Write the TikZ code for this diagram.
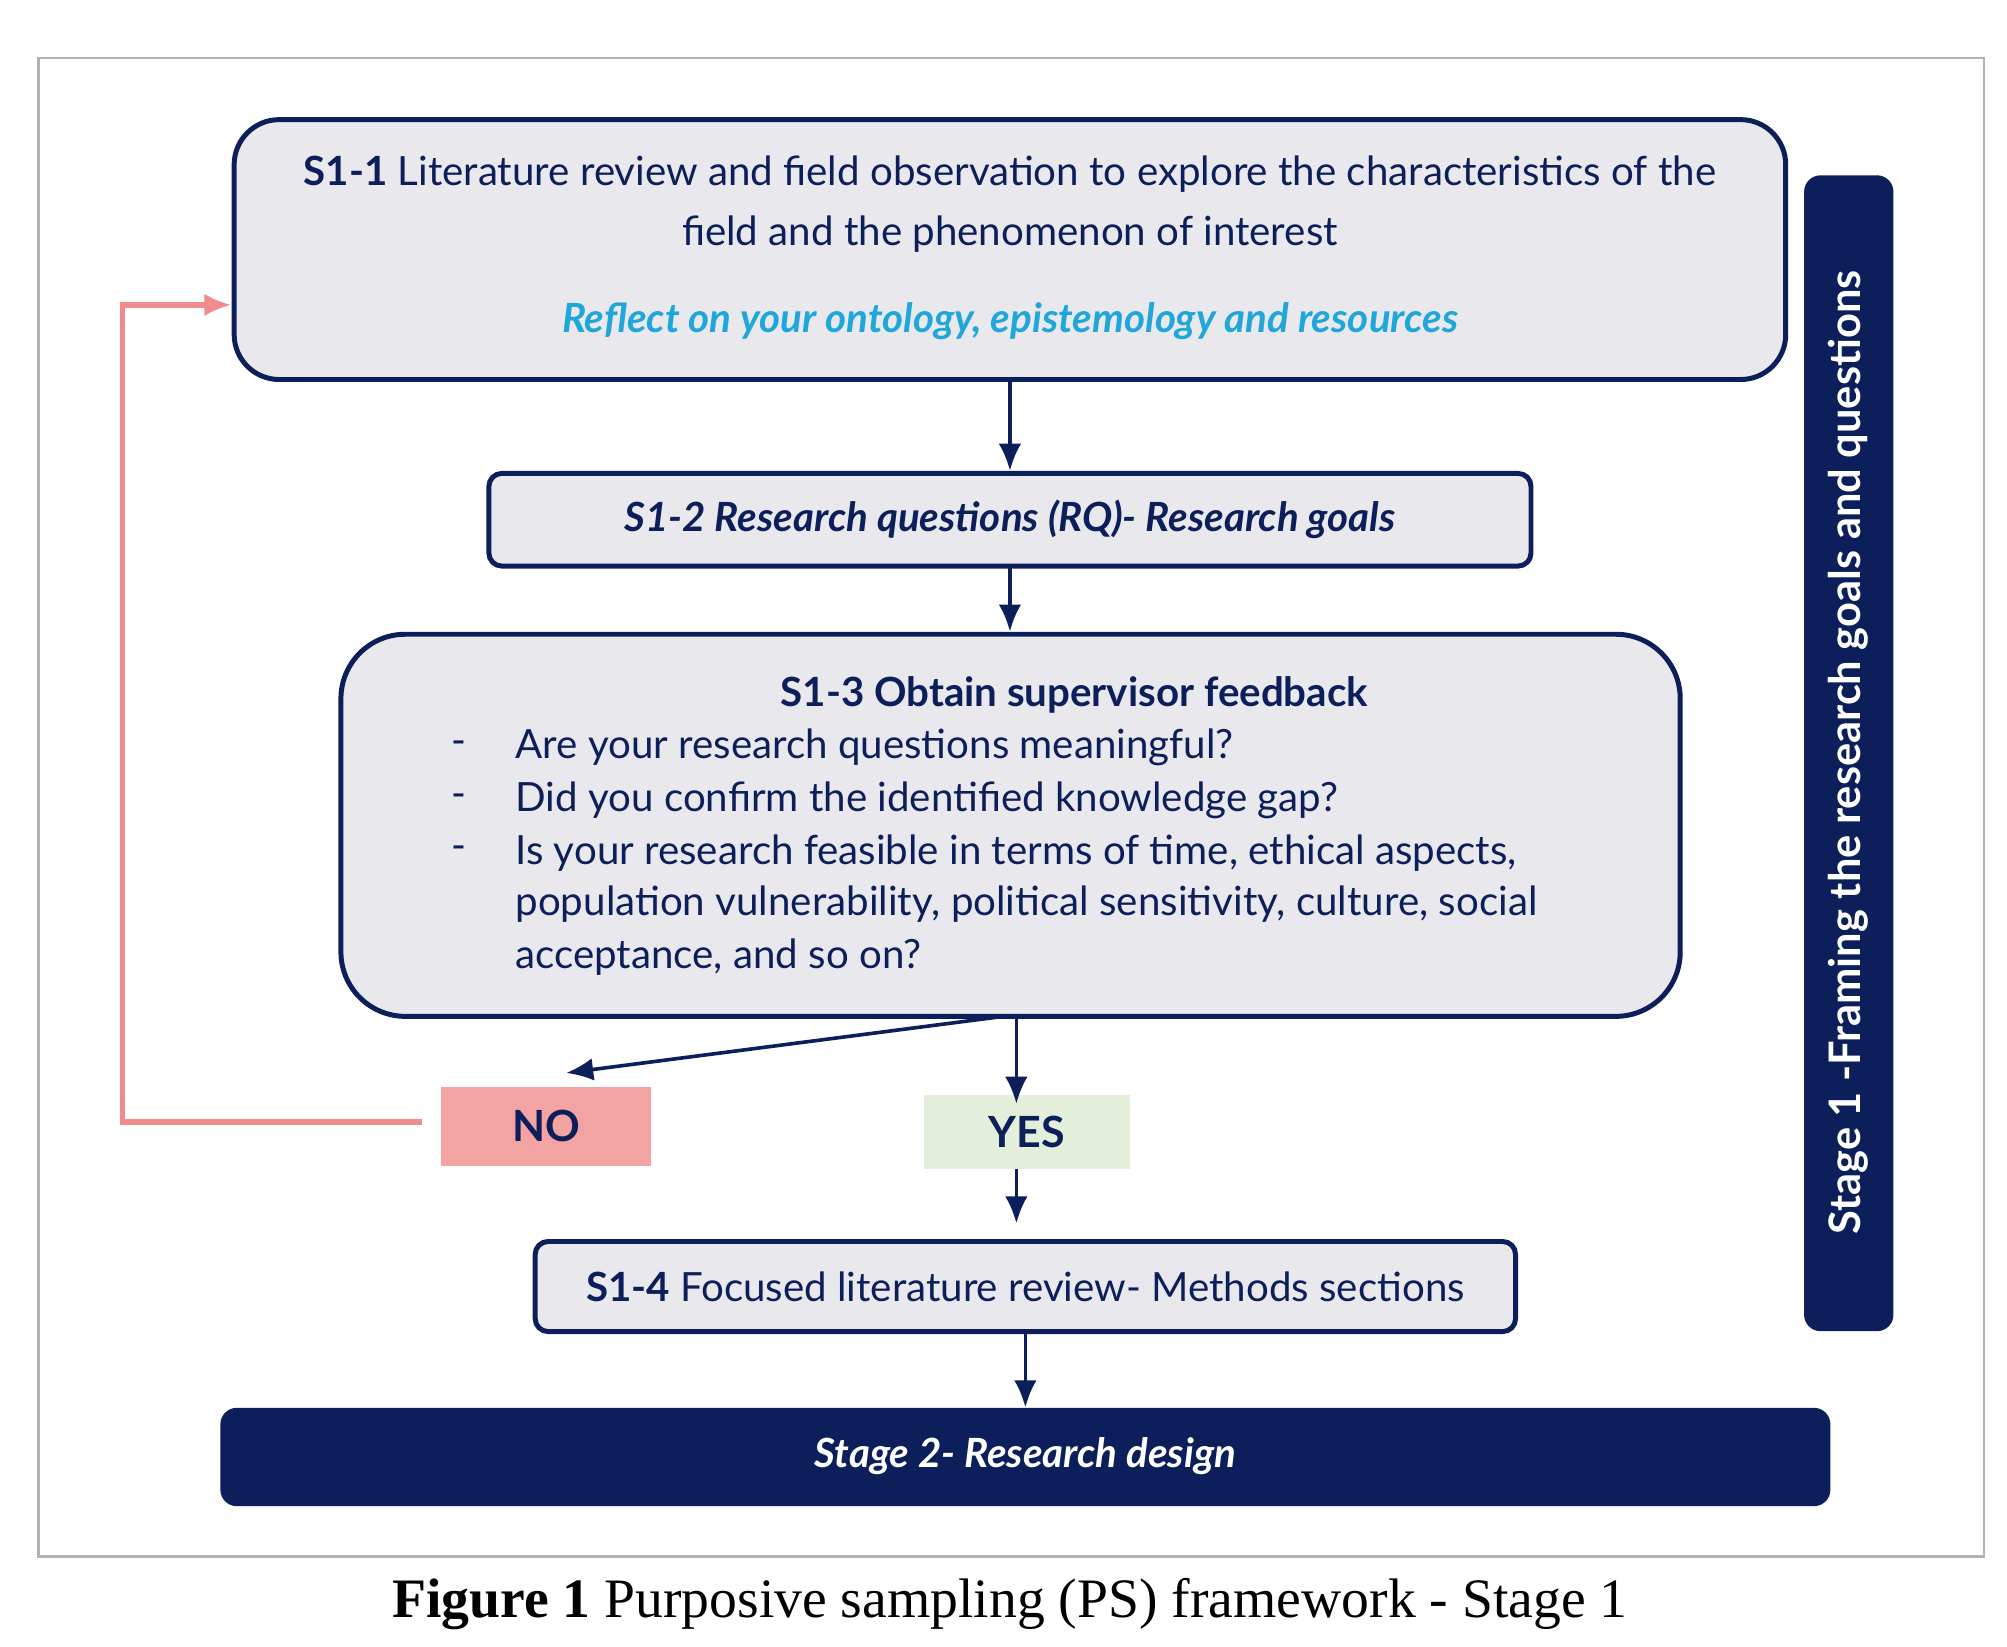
\documentclass[tikz,border=0pt]{standalone}
\usepackage{fontspec}
\setmainfont{Lato}
\newfontfamily\capfont{Liberation Serif}
\usetikzlibrary{arrows.meta}
\definecolor{navy}{HTML}{0C1F5B}
\definecolor{boxfill}{HTML}{E9E9ED}
\definecolor{cyantxt}{HTML}{1FA6DA}
\definecolor{pinkf}{HTML}{F4A3A3}
\definecolor{pinkl}{HTML}{F08C8C}
\definecolor{greenf}{HTML}{E3EFDA}
\tikzset{
  box/.style={draw=navy, line width=1.1pt, fill=boxfill, text=navy},
  arr/.style={-{Latex[length=6pt,width=5pt]}, navy, line width=0.8pt},
  txt/.style={text=navy, font=\fontsize{8.9}{11}\selectfont, inner sep=0pt},
}
\begin{document}
\begin{tikzpicture}[x=0.01cm,y=-0.01cm]
\useasboundingbox (0,0) rectangle (1560,1280);
\draw[gray!60, line width=0.6pt] (30,45) rectangle (1542,1210);
% S1-1
\draw[box, rounded corners=0.35cm] (182,93) rectangle (1388,295);
\coordinate (b1) at (785,295);
\node[txt] (t1a) at (785,135) {\textbf{S1-1} Literature review and field observation to explore the characteristics of the};
\node[txt] (t1b) at (785,182) {field and the phenomenon of interest};
\node[txt, text=cyantxt] (t1c) at (785,250) {\textbf{\itshape Reflect on your ontology, epistemology and resources}};
\coordinate (a1) at (180,237);
% S1-2
\draw[box, rounded corners=0.1cm] (380,368) rectangle (1190,440);
\node[txt] (t2) at (785,404) {\textbf{\itshape S1-2 Research questions (RQ)- Research goals}};
\coordinate (t2top) at (785,366);
\coordinate (t2bot) at (785,440);
% S1-3
\draw[box, rounded corners=0.5cm] (265,493) rectangle (1306,790);
\coordinate (t3top) at (785,491);
\node[txt] (t3) at (835,540) {\textbf{S1-3 Obtain supervisor feedback}};
\foreach \y/\s in {581/{Are your research questions meaningful?},622/{Did you confirm the identified knowledge gap?},663/{Is your research feasible in terms of time, ethical aspects,}}{
  \node[txt, anchor=west] at (350,\y) {-};
  \node[txt, anchor=west] at (400,\y) {\s};
}
\node[txt, anchor=west] (l4) at (400,703) {population vulnerability, political sensitivity, culture, social};
\node[txt, anchor=west] (l5) at (400,744) {acceptance, and so on?};
\coordinate (s3a) at (780,790);
\coordinate (s3b) at (790,790);
% NO / YES
\node[fill=pinkf, minimum width=1.63cm, minimum height=0.61cm, text=navy, font=\fontsize{9.5}{10}\selectfont\bfseries] (no) at (424.5,875.5) {NO};
\node[fill=greenf, minimum width=1.60cm, minimum height=0.58cm, text=navy, font=\fontsize{9.5}{10}\selectfont\bfseries] (yes) at (798,880) {YES};
\draw[arr] (s3a) -- (440,834);
\draw[arr] (s3b) -- (790,858);
\draw[pinkl, line width=1.2pt, -{Latex[length=6pt,width=5pt]}] (328,872) -- (95,872) -- (95,237) -- (a1);
% S1-4
\draw[box, rounded corners=0.1cm] (416,965) rectangle (1178,1035);
\node[txt] (t4) at (797,1000) {\textbf{S1-4} Focused literature review- Methods sections};
\draw[arr] (790,909) -- (790,951);
% Stage 2
\draw[fill=navy, draw=navy, rounded corners=0.12cm] (172,1095) rectangle (1422,1170);
\node[txt, text=white] (st2) at (797,1132) {\textbf{\itshape Stage 2- Research design}};
\draw[arr] (797,1035) -- (797,1094);
% side bar
\draw[fill=navy, draw=navy, rounded corners=0.12cm] (1403,137) rectangle (1471,1034);
\node[txt, text=white, rotate=90, font=\fontsize{9.6}{11}\selectfont] (side) at (1437,585) {\textbf{Stage 1 -Framing the research goals and questions}};
\draw[arr] (b1) -- (t2top);
\draw[arr] (t2bot) -- (t3top);
% caption
\node[inner sep=0pt, font=\capfont\fontsize{12.3}{14}\selectfont] (cap) at (785,1247) {\textbf{Figure 1} Purposive sampling (PS) framework - Stage 1};
\end{tikzpicture}
\end{document}
